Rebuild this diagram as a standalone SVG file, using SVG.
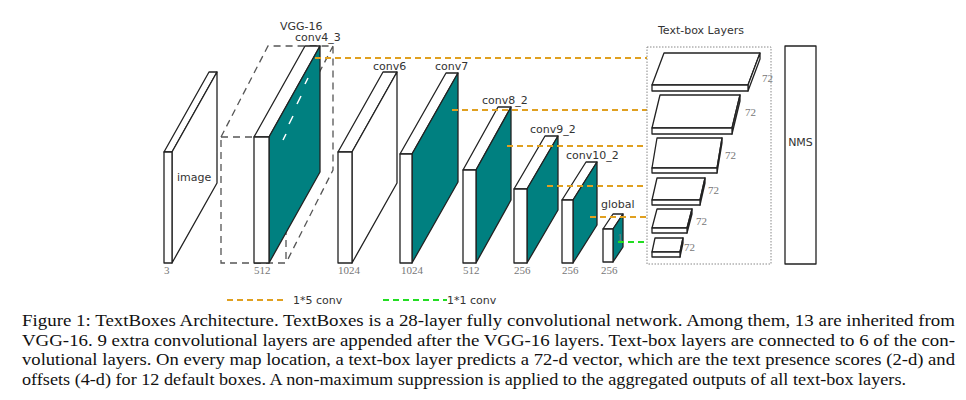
<svg xmlns="http://www.w3.org/2000/svg" width="966" height="400" viewBox="0 0 966 400">
<style>
.s{fill:#fff;stroke:#222;stroke-width:1.3;stroke-linejoin:round}
.t{fill:#008080;stroke:#222;stroke-width:1.3;stroke-linejoin:round}
.lb{font-family:"DejaVu Sans",sans-serif;font-size:11px;fill:#333}
.n{font-family:"Liberation Serif",serif;font-size:11px;fill:#777}
.o{stroke:#e0a020;stroke-width:2;stroke-dasharray:6,4;fill:none}
.g{stroke:#22dd22;stroke-width:2;stroke-dasharray:6,4;fill:none}
.cap{font-family:"Liberation Serif",serif;font-size:17.5px;fill:#111}
</style>
<rect width="966" height="400" fill="#fff"/>
<g id="vgg-box" fill="none" stroke="#555" stroke-width="1.3" stroke-dasharray="7,5">
<rect x="221" y="137" width="65" height="126"/>
<path d="M221,137 L268,46 L333,46 L333,170 L286,263 M286,137 L333,46"/>
</g>
<g id="image"><polygon class="s" points="164,152 172,152 217,72 209,72"/><polygon class="s" points="172,152 217,72 217,183 172,263"/><rect class="s" x="164" y="152" width="8" height="111"/><text class="lb" x="177" y="181">image</text></g>
<g id="conv4_3"><polygon class="s" points="254,137 269,137 320,46 305,46"/><polygon class="t" points="269,137 320,46 320,172 269,263"/><rect class="s" x="254" y="137" width="15" height="126"/>
<path d="M283,140 L286,134 M289,124 L293,116 M297,104 L301,96 M305,84 L308,78" stroke="#fff" stroke-width="1.5"/>
<text class="lb" x="280" y="30">VGG-16</text><text class="lb" x="295" y="41">conv4_3</text></g>
<g id="conv6"><polygon class="s" points="338,152 352,152 397,72 383,72"/><polygon class="s" points="352,152 397,72 397,183 352,263"/><rect class="s" x="338" y="152" width="14" height="111"/><text class="lb" x="373" y="70">conv6</text></g>
<g id="conv7"><polygon class="s" points="400,154 412,154 458,73 446,73"/><polygon class="t" points="412,154 458,73 458,182 412,263"/><rect class="s" x="400" y="154" width="12" height="109"/><text class="lb" x="435" y="70">conv7</text></g>
<g id="conv8_2"><polygon class="s" points="463,170 476,170 511,107 498,107"/><polygon class="t" points="476,170 511,107 511,200 476,263"/><rect class="s" x="463" y="170" width="13" height="93"/><text class="lb" x="482" y="104">conv8_2</text></g>
<g id="conv9_2"><polygon class="s" points="514,189 527,189 558,136 545,136"/><polygon class="t" points="527,189 558,136 558,210 527,263"/><rect class="s" x="514" y="189" width="13" height="74"/><text class="lb" x="530" y="133">conv9_2</text></g>
<g id="conv10_2"><polygon class="s" points="562,200 573,200 597,162 586,162"/><polygon class="t" points="573,200 597,162 597,225 573,263"/><rect class="s" x="562" y="200" width="11" height="63"/><text class="lb" x="566" y="159">conv10_2</text></g>
<g id="global"><polygon class="s" points="603,229 613,229 623,214 613,214"/><polygon class="t" points="613,229 623,214 623,247 613,262"/><rect class="s" x="603" y="229" width="10" height="33"/><text class="lb" x="601" y="208">global</text><text class="n" x="617" y="241" font-size="9">1</text></g>
<g id="numbers">
<text class="n" x="164" y="274">3</text><text class="n" x="254" y="274">512</text><text class="n" x="338" y="274">1024</text><text class="n" x="401" y="274">1024</text><text class="n" x="463" y="274">512</text><text class="n" x="514" y="274">256</text><text class="n" x="562" y="274">256</text><text class="n" x="601" y="274">256</text>
</g>
<g id="connectors">
<path class="o" d="M315,58 H647 M452,110 H647 M507,146 H647 M547,186 H647 M590,217 H647"/>
<path class="g" d="M618,242 H647"/>
</g>
<g id="textbox-layers">
<rect x="647" y="47" width="124" height="217" fill="none" stroke="#888" stroke-width="1" stroke-dasharray="1.5,1.5"/>
<text class="lb" x="658" y="34">Text-box Layers</text>
<polygon class="s" points="652,85 748,85 760,53 664,53"/><polygon class="s" points="748,85 760,53 760,59 748,91"/><rect class="s" x="652" y="85" width="96" height="6"/><text class="n" x="762" y="82">72</text>
<polygon class="s" points="652,128 732,128 740,95 660,95"/><polygon class="s" points="732,128 740,95 740,101 732,134"/><rect class="s" x="652" y="128" width="80" height="6"/><text class="n" x="745" y="116">72</text>
<polygon class="s" points="652,168 717,168 722,138 657,138"/><polygon class="s" points="717,168 722,138 722,143 717,173"/><rect class="s" x="652" y="168" width="65" height="5"/><text class="n" x="725" y="159">72</text>
<polygon class="s" points="652,200 700,200 705,178 657,178"/><polygon class="s" points="700,200 705,178 705,183 700,205"/><rect class="s" x="652" y="200" width="48" height="5"/><text class="n" x="708" y="194">72</text>
<polygon class="s" points="652,228 687,228 692,209 657,209"/><polygon class="s" points="687,228 692,209 692,214 687,233"/><rect class="s" x="652" y="228" width="35" height="5"/><text class="n" x="696" y="225">72</text>
<polygon class="s" points="652,252 680,252 683,238 655,238"/><polygon class="s" points="680,252 683,238 683,243 680,257"/><rect class="s" x="652" y="252" width="28" height="5"/><text class="n" x="684" y="251">72</text>
</g>
<g id="nms"><rect class="s" x="785" y="46" width="31" height="218"/><text class="lb" x="800.5" y="146" text-anchor="middle" font-size="10">NMS</text></g>
<g id="legend">
<path class="o" d="M227,300 H287"/><text class="lb" x="293" y="304" font-size="10">1*5 conv</text>
<path class="g" d="M383,300 H447"/><text class="lb" x="447" y="304" font-size="10">1*1 conv</text>
</g>
<g id="caption">
<text class="cap" x="22" y="326" textLength="933" lengthAdjust="spacingAndGlyphs">Figure 1: TextBoxes Architecture. TextBoxes is a 28-layer fully convolutional network. Among them, 13 are inherited from</text>
<text class="cap" x="22" y="345.5" textLength="933" lengthAdjust="spacingAndGlyphs">VGG-16. 9 extra convolutional layers are appended after the VGG-16 layers. Text-box layers are connected to 6 of the con-</text>
<text class="cap" x="22" y="365" textLength="933" lengthAdjust="spacingAndGlyphs">volutional layers. On every map location, a text-box layer predicts a 72-d vector, which are the text presence scores (2-d) and</text>
<text class="cap" x="22" y="384.5" textLength="884" lengthAdjust="spacingAndGlyphs">offsets (4-d) for 12 default boxes. A non-maximum suppression is applied to the aggregated outputs of all text-box layers.</text>
</g>
</svg>
